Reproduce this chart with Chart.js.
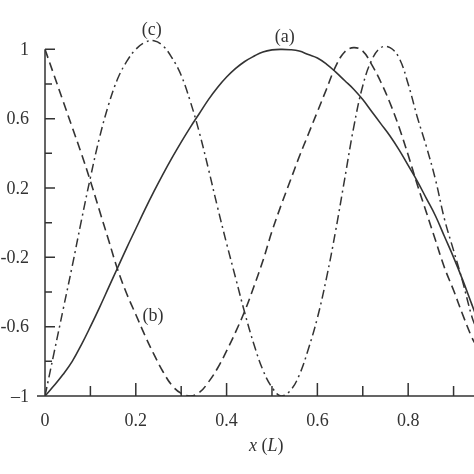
<!DOCTYPE html>
<html>
<head>
<meta charset="utf-8">
<script src="https://cdn.jsdelivr.net/npm/chart.js@4/dist/chart.umd.min.js"></script>
<style>
  html, body { margin: 0; padding: 0; background: #fff; }
  #wrap { width: 474px; height: 474px; }
</style>
</head>
<body>
<div id="wrap"><canvas id="chart" width="474" height="474"></canvas></div>
<script>
// sample positions along the beam, x (L)
const xValues = [0, 0.02, 0.04, 0.06, 0.08, 0.1, 0.12, 0.14, 0.16, 0.18, 0.2, 0.22, 0.24, 0.26, 0.28, 0.3,
  0.32, 0.34, 0.36, 0.38, 0.4, 0.42, 0.44, 0.46, 0.48, 0.5, 0.52, 0.54, 0.56, 0.58, 0.6, 0.62, 0.64,
  0.66, 0.68, 0.7, 0.72, 0.74, 0.76, 0.78, 0.8, 0.82, 0.84, 0.86, 0.88, 0.9, 0.92, 0.94, 0.95];

// curve (a), solid
const curveA = [-1, -0.94, -0.875, -0.8, -0.705, -0.6, -0.49, -0.375, -0.26, -0.145, -0.035, 0.075, 0.18, 0.28, 0.375, 0.465,
  0.55, 0.63, 0.71, 0.78, 0.84, 0.89, 0.93, 0.96, 0.985, 0.997, 1, 0.998, 0.99, 0.97, 0.95, 0.915, 0.87,
  0.82, 0.77, 0.71, 0.64, 0.57, 0.5, 0.42, 0.33, 0.24, 0.14, 0.04, -0.08, -0.2, -0.33, -0.47, -0.54];

// curve (b), dashed
const curveB = [1, 0.85, 0.7, 0.55, 0.4, 0.24, 0.07, -0.1, -0.27, -0.41, -0.53, -0.65, -0.76, -0.86, -0.94, -0.985,
  -1, -0.98, -0.92, -0.84, -0.74, -0.63, -0.51, -0.37, -0.22, -0.05, 0.1, 0.24, 0.38, 0.51, 0.64, 0.77, 0.9,
  0.985, 1.01, 0.99, 0.91, 0.81, 0.69, 0.55, 0.39, 0.22, 0.06, -0.1, -0.26, -0.39, -0.53, -0.66, -0.71];

// curve (c), dash-dot
const curveC = [-1, -0.75, -0.5, -0.25, 0.01, 0.26, 0.49, 0.68, 0.83, 0.93, 1, 1.04, 1.05, 1.02, 0.95, 0.85,
  0.7, 0.52, 0.31, 0.09, -0.12, -0.32, -0.52, -0.7, -0.85, -0.95, -1, -0.97, -0.88, -0.73, -0.55, -0.32, -0.05,
  0.25, 0.55, 0.79, 0.94, 1.01, 1.01, 0.95, 0.8, 0.61, 0.44, 0.25, 0.02, -0.16, -0.34, -0.54, -0.61];

const yTickValues = [-1, -0.6, -0.2, 0.2, 0.6, 1];
const yTickLabels = ["\u20131", "-0.6", "-0.2", "0.2", "0.6", "1"];
const yMinorValues = [-0.8, -0.4, 0, 0.4, 0.8];
const xTickValues = [0, 0.2, 0.4, 0.6, 0.8];
const xTickLabels = ["0", "0.2", "0.4", "0.6", "0.8"];
const xMinorValues = [0.1, 0.3, 0.5, 0.7, 0.9];

// curve tags: label, x, y (data units)
const curveTags = [
  { text: "(a)", x: 0.528, y: 1.07 },
  { text: "(b)", x: 0.238, y: -0.54 },
  { text: "(c)", x: 0.235, y: 1.11 },
];

const ink = "#333333";
const serif = "'Liberation Serif', 'DejaVu Serif', serif";

const toPoints = (ys) => xValues.map((x, i) => ({ x: x, y: ys[i] }));

const axesPlugin = {
  id: "axes",
  beforeDatasetsDraw(chart) {
    const ctx = chart.ctx;
    const xs = chart.scales.x;
    const ys = chart.scales.y;
    const x0 = xs.getPixelForValue(0);
    const yBot = ys.getPixelForValue(-1);
    const yTop = ys.getPixelForValue(1);

    ctx.save();
    ctx.strokeStyle = ink;
    ctx.lineWidth = 1.5;
    ctx.beginPath();
    ctx.moveTo(x0, yTop);
    ctx.lineTo(x0, yBot);
    ctx.moveTo(x0 - 8, yBot);
    ctx.lineTo(chart.width, yBot);

    // inward ticks
    yTickValues.forEach((v) => {
      const p = ys.getPixelForValue(v);
      ctx.moveTo(x0, p);
      ctx.lineTo(x0 + 10, p);
    });
    yMinorValues.forEach((v) => {
      const p = ys.getPixelForValue(v);
      ctx.moveTo(x0, p);
      ctx.lineTo(x0 + 7, p);
    });
    xTickValues.forEach((v) => {
      const p = xs.getPixelForValue(v);
      ctx.moveTo(p, yBot);
      ctx.lineTo(p, yBot - 13);
    });
    xMinorValues.forEach((v) => {
      const p = xs.getPixelForValue(v);
      ctx.moveTo(p, yBot);
      ctx.lineTo(p, yBot - 10);
    });
    ctx.stroke();

    // tick labels
    ctx.fillStyle = ink;
    ctx.font = "18px " + serif;
    ctx.textAlign = "right";
    ctx.textBaseline = "middle";
    yTickValues.forEach((v, i) => {
      ctx.fillText(yTickLabels[i], 29, ys.getPixelForValue(v) + 1);
    });
    ctx.textAlign = "center";
    xTickValues.forEach((v, i) => {
      ctx.fillText(xTickLabels[i], xs.getPixelForValue(v), yBot + 25);
    });

    // axis title: x (L) with italic variables
    ctx.textAlign = "left";
    ctx.textBaseline = "alphabetic";
    const parts = [
      { t: "x", it: true },
      { t: " (", it: false },
      { t: "L", it: true },
      { t: ")", it: false },
    ];
    let tx = 249;
    parts.forEach((p) => {
      ctx.font = (p.it ? "italic " : "") + "18px " + serif;
      ctx.fillText(p.t, tx, 451);
      tx += ctx.measureText(p.t).width;
    });

    // curve tags
    ctx.font = "18px " + serif;
    ctx.textAlign = "center";
    ctx.textBaseline = "middle";
    curveTags.forEach((c) => {
      ctx.fillText(c.text, xs.getPixelForValue(c.x), ys.getPixelForValue(c.y));
    });
    ctx.restore();
  },
};

new Chart(document.getElementById("chart"), {
  type: "line",
  data: {
    datasets: [
      {
        label: "(a)",
        data: toPoints(curveA),
        borderColor: ink,
        borderWidth: 1.6,
        pointRadius: 0,
        tension: 0.4,
      },
      {
        label: "(b)",
        data: toPoints(curveB),
        borderColor: ink,
        borderWidth: 1.6,
        borderDash: [9, 5],
        pointRadius: 0,
        tension: 0.4,
      },
      {
        label: "(c)",
        data: toPoints(curveC),
        borderColor: ink,
        borderWidth: 1.5,
        borderDash: [9, 4, 2, 4],
        pointRadius: 0,
        tension: 0.4,
      },
    ],
  },
  options: {
    responsive: false,
    animation: false,
    events: [],
    layout: { padding: { left: 45, right: 0, top: 32, bottom: 78 } },
    plugins: {
      legend: { display: false },
      tooltip: { enabled: false },
    },
    scales: {
      x: { type: "linear", min: 0, max: 0.945, display: false },
      y: { type: "linear", min: -1, max: 1.1, display: false },
    },
  },
  plugins: [axesPlugin],
});
</script>
</body>
</html>
